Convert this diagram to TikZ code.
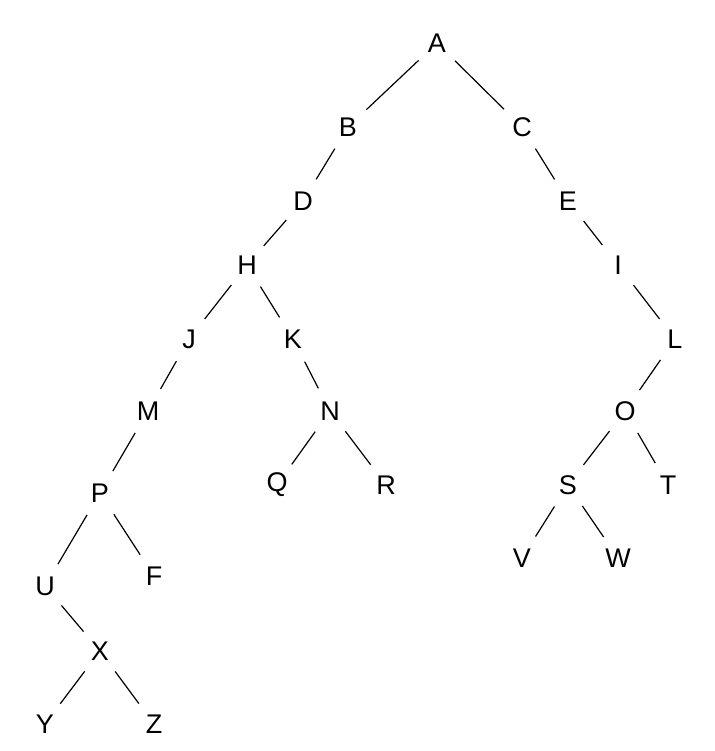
\documentclass[tikz,border=0pt]{standalone}
\usepackage{fontspec}
\setmainfont{Liberation Sans}
\usepackage{tikz}

\begin{document}
\begin{tikzpicture}[x=0.5pt, y=-0.5pt,
    letter/.style={circle, minimum size=25pt, inner sep=0pt, font=\fontsize{13.5}{16}\selectfont},
    branch/.style={line width=0.6pt}]
  % Fix the frame of the picture
  \useasboundingbox (0,0) rectangle (715,751);

  % Place the letters of the tree
  \foreach \n/\x/\y in {A/437/43, B/348/127, C/522/127, D/303/201, E/568/201,
      H/247/265, I/618/265, J/189/339, K/293/339, L/675/339,
      M/148/411, N/330/411, O/625/411, P/100/493, Q/277/485, R/386/485,
      S/568/485, T/668/485, V/522/558, W/618/558, U/45/586, F/154/576,
      X/100/651, Y/45/724, Z/154/724} {
    \node[letter] (\n) at (\x,\y) {\n};
  }

  % Draw the branches between parent and child
  \foreach \a/\b in {A/B, A/C, B/D, C/E, D/H, E/I, H/J, H/K, I/L,
      J/M, K/N, L/O, M/P, N/Q, N/R, O/S, O/T, S/V, S/W,
      P/U, P/F, U/X, X/Y, X/Z} {
    \draw[branch] (\a) -- (\b);
  }

\end{tikzpicture}
\end{document}
